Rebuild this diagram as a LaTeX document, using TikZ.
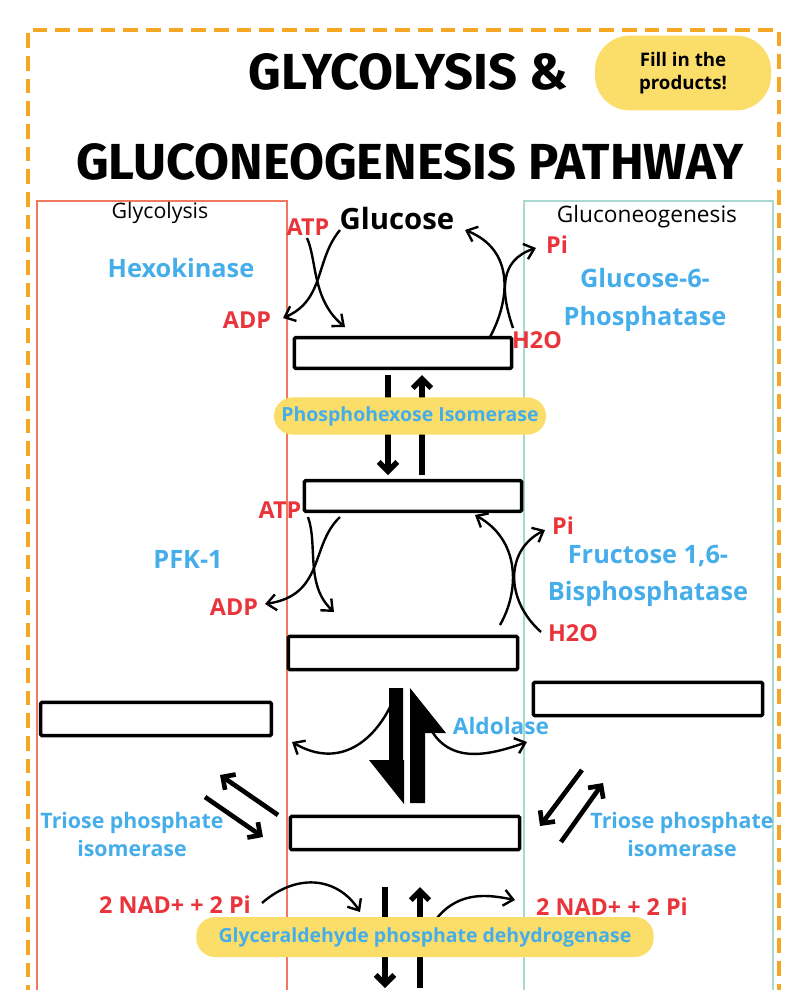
\documentclass[tikz,border=0pt]{standalone}
\usepackage{fontspec}
\setmainfont{Open Sans}
\newfontfamily\titlefont{Fira Sans}
\usetikzlibrary{arrows.meta}
\definecolor{frameorange}{HTML}{F5A623}
\definecolor{glyred}{HTML}{F07860}
\definecolor{gluteal}{HTML}{A8D8CF}
\definecolor{pillyellow}{HTML}{FBDD6A}
\definecolor{enzblue}{HTML}{45AEEA}
\definecolor{cofred}{HTML}{E8343A}
\tikzset{
  prod/.style={draw=black,line width=2.6pt,fill=white,rounded corners=1pt},
  enz/.style={text=enzblue,font=\bfseries\fontsize{19}{22}\selectfont,align=center},
  cof/.style={text=cofred,font=\bfseries\fontsize{17.5}{20}\selectfont},
  pill/.style={fill=pillyellow,rounded corners=14pt,text=enzblue,font=\bfseries\fontsize{14.6}{17}\selectfont,inner sep=0pt},
  cur/.style={-{Straight Barb[length=7pt,width=12pt,line width=1.8pt]},line width=1.8pt},
  fat/.style={-{Straight Barb[length=7pt,width=14pt,line width=4pt]},line width=4.5pt},
  half/.style={-{Straight Barb[length=7pt,width=14pt,line width=3.5pt]},line width=3.5pt}
}
\begin{document}
\begin{tikzpicture}[x=0.75pt,y=-0.75pt]
\useasboundingbox (0,0) rectangle (794,990);
% frame
\draw[frameorange,line width=3.5pt,dash pattern=on 11pt off 6pt] (28,1000) -- (28,30) -- (779,30) -- (779,1000);
% title
\node[font=\titlefont\bfseries\fontsize{38}{44}\selectfont] (title1) at (408,72) {GLYCOLYSIS \&};
\node[font=\titlefont\bfseries\fontsize{38}{44}\selectfont] (title2) at (410,162) {GLUCONEOGENESIS PATHWAY};
\node[fill=pillyellow,rounded corners=26pt,minimum width=132pt,minimum height=56pt,align=center,font=\bfseries\fontsize{14}{17}\selectfont] (fill) at (683,73) {Fill in the\\products!};
% pathway boxes
\draw[glyred,line width=2pt] (37,1000) -- (37,201) -- (287,201) -- (287,1000);
\draw[gluteal,line width=2pt] (524,1000) -- (524,201) -- (773,201) -- (773,1000);
\node[font=\fontsize{16}{19}\selectfont] (glyc) at (160,213) {Glycolysis};
\node[font=\fontsize{17}{20}\selectfont] (gng) at (647,217) {Gluconeogenesis};
% enzymes
\node[enz] (hex) at (181,268) {Hexokinase};
\node[enz] (g6p) at (645,300) {Glucose-6-\\[6pt]Phosphatase};
\node[enz] (pfk) at (188,559) {PFK-1};
\node[enz] (fbp) at (648,576) {Fructose 1,6-\\[6pt]Bisphosphatase};
\node[enz,font=\bfseries\fontsize{17}{20}\selectfont] (ald) at (501,726) {Aldolase};
\node[enz,font=\bfseries\fontsize{16}{19}\selectfont] (tpi1) at (132,834) {Triose phosphate\\[2pt]isomerase};
\node[enz,font=\bfseries\fontsize{16}{19}\selectfont] (tpi2) at (682,834) {Triose phosphate\\[2pt]isomerase};
% substrate and product slots
\node[font=\bfseries\fontsize{22}{26}\selectfont] (glc) at (397,218) {Glucose};
\node[prod,minimum width=163pt,minimum height=23pt] (p1) at (403,353) {};
\node[prod,minimum width=163pt,minimum height=23pt] (p2) at (413,496) {};
\node[prod,minimum width=172pt,minimum height=25pt] (p3) at (403,653) {};
\node[prod,minimum width=173pt,minimum height=25pt] (p4) at (156,719) {};
\node[prod,minimum width=172pt,minimum height=25pt] (p5) at (648,699) {};
\node[prod,minimum width=172pt,minimum height=25pt] (p6) at (405,833) {};
% cofactors
\node[cof] (atp1) at (308,227) {ATP};
\node[cof] (adp1) at (247,320) {ADP};
\node[cof] (pi1) at (557,245) {Pi};
\node[cof] (h2o1) at (537,340) {H2O};
\node[cof] (atp2) at (280,510) {ATP};
\node[cof] (adp2) at (234,607) {ADP};
\node[cof] (pi2) at (563,526) {Pi};
\node[cof] (h2o2) at (573,633) {H2O};
\node[cof] (nad1) at (175,905) {2 NAD+ + 2 Pi};
\node[cof] (nad2) at (612,907) {2 NAD+ + 2 Pi};
% step arrows
\draw[cur] (307,238) .. controls (317,260) and (312,300) .. (345,327);
\draw[cur] (340,230) .. controls (315,260) and (325,300) .. (283,318);
\draw[cur] (490,337) .. controls (510,300) and (515,250) .. (465,230);
\draw[cur] (513,328) .. controls (500,290) and (500,260) .. (536,248);
\draw[fat] (388,375) -- (388,475);
\draw[fat] (422,475) -- (422,375);
\node[pill,minimum width=204pt,minimum height=28pt] (phi) at (410,416) {Phosphohexose Isomerase};
\draw[cur] (308,517) .. controls (318,545) and (305,585) .. (334,612);
\draw[cur] (340,517) .. controls (310,545) and (325,595) .. (265,604);
\draw[cur] (500,625) .. controls (520,590) and (520,540) .. (475,515);
\draw[cur] (541,632) .. controls (505,600) and (505,550) .. (545,530);
% aldolase split
\fill (389,688) rectangle (403,762) (369,760) -- (404,804) -- (404,760) -- cycle;
\fill (410,803) rectangle (425,732) (410,688) -- (446,733) -- (410,733) -- cycle;
\draw[cur] (392,703) .. controls (375,740) and (340,770) .. (292,742);
\draw[cur] (430,728) .. controls (450,765) and (490,755) .. (527,742);
\draw[half] (278,815) -- (220,775);
\draw[half] (205,797) -- (263,837);
\draw[half] (582,770) -- (540,826);
\draw[half] (561,842) -- (603,783);
% dehydrogenase step
\draw[cur] (262,903) .. controls (300,870) and (340,880) .. (360,912);
\draw[cur] (437,918) .. controls (460,890) and (490,895) .. (515,900);
\draw[fat] (385,887) -- (385,988);
\draw[fat] (420,988) -- (420,887);
\node[pill,minimum width=343pt,minimum height=30pt] (gapdh) at (425,937) {Glyceraldehyde phosphate dehydrogenase};
\end{tikzpicture}
\end{document}
